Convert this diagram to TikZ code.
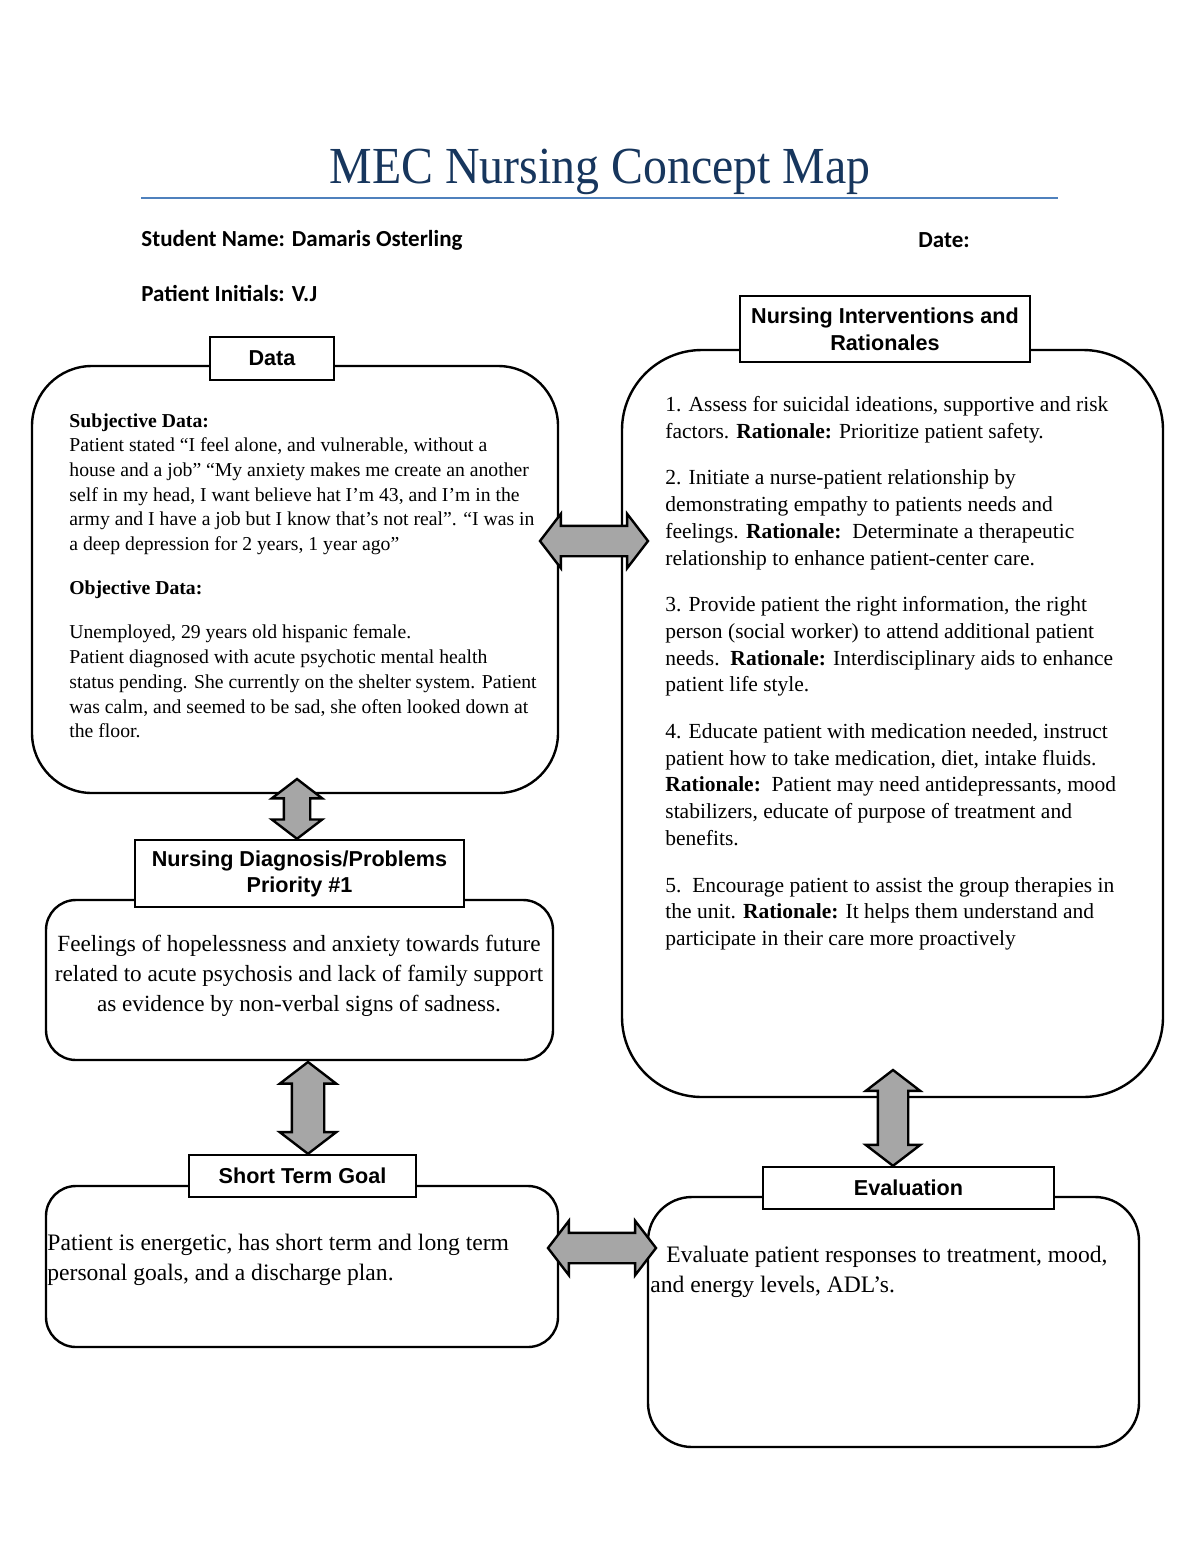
\documentclass[tikz,border=0pt]{standalone}
\usepackage{fontspec}
\setmainfont{Liberation Serif}
\setsansfont{Liberation Sans}
\newfontfamily\calibri{Carlito}
\newfontfamily\cambria[FakeStretch=0.92]{Liberation Serif}
\usetikzlibrary{calc,shapes.arrows}
\definecolor{titleblue}{HTML}{17365D}
\definecolor{ruleblue}{HTML}{4F81BD}
\definecolor{arrowgray}{HTML}{A6A6A6}

\begin{document}
\begin{tikzpicture}[x=0.5pt,y=-0.5pt,
  box/.style={draw,line width=1.2pt,inner sep=0pt,rounded corners=#1},
  head/.style={draw,fill=white,line width=1.2pt,inner sep=0pt,align=center,
    font=\sffamily\bfseries\fontsize{10.8}{13.5}\selectfont},
  txt/.style={inner sep=0pt,align=left,anchor=north west},
  info/.style={inner sep=0pt,anchor=west,font=\calibri\bfseries\fontsize{11.5}{13}\selectfont},
  link/.style={to path={let \p1=(\tikztostart),\p2=(\tikztotarget),
      \n1={veclen(\x2-\x1,\y2-\y1)},\n2={atan2(\y2-\y1,\x2-\x1)} in
      ($(\p1)!0.5!(\p2)$) node [shape=double arrow,draw,fill=arrowgray,line width=1.2pt,
        inner xsep=0pt,inner ysep=#1,double arrow head extend=6pt,
        double arrow tip angle=105,minimum height=\n1,rotate=\n2] {}}},
  link/.default=7pt]

\path [fill=white] (0,0) rectangle (1200,1553);
\useasboundingbox (0,0) rectangle (1200,1553);

\node [font=\cambria\fontsize{26}{30}\selectfont,text=titleblue] (title) at (600,172) {MEC Nursing Concept Map};
\draw [ruleblue,line width=1pt] (141,198) -- (1058,198);

\node [info] (student) at (141,240) {Student Name: Damaris Osterling};
\node [info] (date) at (918,240) {Date:};
\node [info] (initials) at (141,293) {Patient Initials: V.J};

\node [box=30pt,minimum width=263pt,minimum height=213.5pt] (data) at (295,579.5) {};
\node [head,minimum width=62pt,minimum height=21.5pt] (datahead) at (272,358.5) {Data};

\node [box=40pt,minimum width=270.5pt,minimum height=373.5pt] (interv) at (892.5,723.5) {};
\node [head,minimum width=145pt,minimum height=33pt] (intervhead) at (885,329) {Nursing Interventions and\\Rationales};

\node [box=15pt,minimum width=253.5pt,minimum height=80pt] (diag) at (299.5,980) {};
\node [head,minimum width=164.5pt,minimum height=33.5pt,font=\sffamily\bfseries\fontsize{10.8}{13}\selectfont] (diaghead) at (299.5,873.5) {Nursing Diagnosis/Problems\\Priority \#1};

\node [box=15pt,minimum width=256pt,minimum height=80.5pt] (goal) at (302,1266.5) {};
\node [head,minimum width=113.5pt,minimum height=21pt] (goalhead) at (302.5,1176) {Short Term Goal};

\node [box=22pt,minimum width=245.5pt,minimum height=125pt] (eval) at (893.5,1322) {};
\node [head,minimum width=145.5pt,minimum height=21pt] (evalhead) at (908.5,1188) {Evaluation};

\node [txt,font=\fontsize{9.85}{12.35}\selectfont] (datatext) at (69,413) {\textbf{Subjective Data:}\\
Patient stated “I feel alone, and vulnerable, without a\\
house and a job” “My anxiety makes me create an another\\
self in my head, I want believe hat I’m 43, and I’m in the\\
army and I have a job but I know that’s not real”. “I was in\\
a deep depression for 2 years, 1 year ago”\\[9.5pt]
\textbf{Objective Data:}\\[10pt]
Unemployed, 29 years old hispanic female.\\
Patient diagnosed with acute psychotic mental health\\
status pending. She currently on the shelter system. Patient\\
was calm, and seemed to be sad, she often looked down at\\
the floor.};

\node [txt,font=\fontsize{10.75}{13.35}\selectfont] (intervtext) at (665,396) {1. Assess for suicidal ideations, supportive and risk\\
factors. \textbf{Rationale:} Prioritize patient safety.\\[10pt]
2. Initiate a nurse-patient relationship by\\
demonstrating empathy to patients needs and\\
feelings. \textbf{Rationale:}\ \ Determinate a therapeutic\\
relationship to enhance patient-center care.\\[10pt]
3. Provide patient the right information, the right\\
person (social worker) to attend additional patient\\
needs.\ \ \textbf{Rationale:} Interdisciplinary aids to enhance\\
patient life style.\\[10pt]
4. Educate patient with medication needed, instruct\\
patient how to take medication, diet, intake fluids.\\
\textbf{Rationale:}\ \ Patient may need antidepressants, mood\\
stabilizers, educate of purpose of treatment and\\
benefits.\\[10pt]
5.\ \ Encourage patient to assist the group therapies in\\
the unit. \textbf{Rationale:} It helps them understand and\\
participate in their care more proactively};

\node [txt,anchor=north,align=center,font=\fontsize{11.6}{15}\selectfont] (diagtext) at (299,935) {Feelings of hopelessness and anxiety towards future\\
related to acute psychosis and lack of family support\\
as evidence by non-verbal signs of sadness.};

\node [txt,font=\fontsize{11.8}{15}\selectfont] (goaltext) at (47,1234) {Patient is energetic, has short term and long term\\
personal goals, and a discharge plan.};

\node [txt,font=\fontsize{11.8}{15}\selectfont] (evaltext) at (650,1246) {\hspace*{8pt}Evaluate patient responses to treatment, mood,\\
and energy levels, ADL’s.};

\coordinate (l1a) at (540,541);
\coordinate (l1b) at (648,541);
\coordinate (l2a) at (297,779);
\coordinate (l3a) at (308,1062);
\coordinate (l4a) at (548,1248);
\coordinate (l4b) at (656,1248);
\coordinate (l5a) at (893,1070);

\path (l1a) to [link] (l1b);
\path (l2a) to [link=6pt] (l2a |- diaghead.north);
\path (l3a) to [link=7.5pt] (l3a |- goalhead.north);
\path (l4a) to [link] (l4b);
\path (l5a) to [link] (l5a |- evalhead.north);

\end{tikzpicture}
\end{document}
